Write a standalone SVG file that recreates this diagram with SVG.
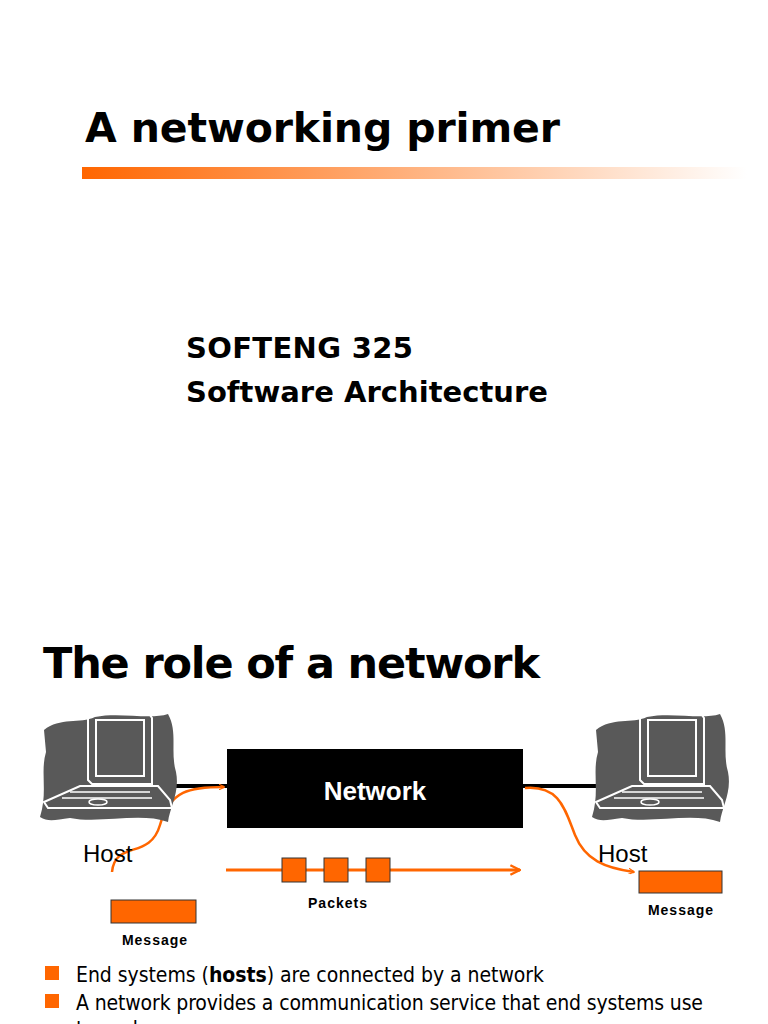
<svg xmlns="http://www.w3.org/2000/svg" width="768" height="1024" viewBox="0 0 768 1024">
<defs>
<linearGradient id="g" x1="0" x2="1"><stop offset="0" stop-color="#ff6600"/><stop offset="1" stop-color="#fff"/></linearGradient>
<marker id="ah" viewBox="0 0 10 10" refX="9" refY="5" markerWidth="6" markerHeight="6" orient="auto" markerUnits="userSpaceOnUse"><path d="M0,0 L10,5 L0,10" fill="none" stroke="#ff6600" stroke-width="2"/></marker>
<marker id="ah2" viewBox="0 0 10 10" refX="9" refY="5" markerWidth="12" markerHeight="12" orient="auto" markerUnits="userSpaceOnUse"><path d="M1,1 L9,5 L1,9" fill="none" stroke="#ff6600" stroke-width="2"/></marker>
<g id="laptop">
<path d="M4,18 C20,5 40,12 55,5 C80,0 110,8 128,2 C138,20 130,40 136,60 C140,80 130,95 128,110 C100,100 60,112 30,106 C15,108 8,110 0,105 C8,80 0,60 6,40 Z" fill="#595959"/>
<path d="M48,0 L108,0 L112,6 L112,72 L52,72 L48,68 Z M56,8 L104,8 L104,64 L56,64 Z" fill="none" stroke="#fff" stroke-width="2"/>
<path d="M40,74 L118,74 L130,88 L132,96 L8,96 L4,90 Z" fill="none" stroke="#fff" stroke-width="2"/>
<path d="M30,80 L110,80 M22,86 L112,86" stroke="#fff" stroke-width="1.5"/>
<ellipse cx="58" cy="90" rx="9" ry="3" fill="none" stroke="#fff" stroke-width="1.5"/>
</g>
</defs>
<style>
.t{font-family:"DejaVu Sans",Verdana,sans-serif;font-weight:bold;fill:#000}
.a{font-family:"Liberation Sans",Arial,sans-serif}
.b{font-family:"DejaVu Sans Condensed","Liberation Sans Narrow",sans-serif;font-size:21px}
.or{fill:#ff6600;stroke:#333;stroke-width:1}
</style>
<text class="t" x="85" y="142" font-size="41" textLength="475">A networking primer</text>
<rect x="82" y="167" width="665" height="12" fill="url(#g)"/>
<text class="t" x="186" y="358" font-size="29" textLength="227">SOFTENG 325</text>
<text class="t" x="186" y="402" font-size="29" textLength="362">Software Architecture</text>
<text class="t" x="43" y="678" font-size="43" textLength="497">The role of a network</text>
<g id="connectors">
<line x1="165" y1="786" x2="227" y2="786" stroke="#000" stroke-width="4"/>
<line x1="523" y1="786" x2="600" y2="786" stroke="#000" stroke-width="4"/>
<path d="M112,872 C115,840 150,860 160,825 C170,790 190,787 224,787" fill="none" stroke="#ff6600" stroke-width="2.5" marker-end="url(#ah)"/>
<path d="M525,788 C560,785 565,810 575,835 C585,860 605,868 634,872" fill="none" stroke="#ff6600" stroke-width="2.5" marker-end="url(#ah)"/>
<line x1="226" y1="870" x2="520" y2="870" stroke="#ff6600" stroke-width="3" marker-end="url(#ah2)"/>
</g>
<g id="host1"><use href="#laptop" x="40" y="712"/><text class="a" x="83" y="862" font-size="24">Host</text></g>
<g id="host2"><use href="#laptop" x="592" y="712"/><text class="a" x="598" y="862" font-size="24">Host</text></g>
<g id="network"><rect x="227" y="749" width="296" height="79" fill="#000"/><text class="a" x="375" y="800" font-size="26" font-weight="bold" fill="#fff" text-anchor="middle">Network</text></g>
<g id="packets">
<rect class="or" x="282" y="858" width="24" height="24"/><rect class="or" x="324" y="858" width="24" height="24"/><rect class="or" x="366" y="858" width="24" height="24"/>
<text class="a" x="338" y="908" font-size="14" font-weight="bold" text-anchor="middle" letter-spacing="1">Packets</text>
</g>
<g id="msg1"><rect class="or" x="111" y="900" width="85" height="23"/><text class="a" x="155" y="945" font-size="14" font-weight="bold" text-anchor="middle" letter-spacing="1">Message</text></g>
<g id="msg2"><rect class="or" x="639" y="871" width="83" height="22"/><text class="a" x="681" y="915" font-size="14" font-weight="bold" text-anchor="middle" letter-spacing="1">Message</text></g>
<rect x="45" y="966" width="14" height="14" fill="#ff6600"/>
<rect x="45" y="994" width="14" height="14" fill="#ff6600"/>
<text class="b" x="76" y="982" textLength="468">End systems (<tspan font-weight="bold">hosts</tspan>) are connected by a network</text>
<text class="b" x="76" y="1010" textLength="627">A network provides a communication service that end systems use</text>
<text class="b" x="76" y="1036" textLength="215">to exchange messages</text>
</svg>
